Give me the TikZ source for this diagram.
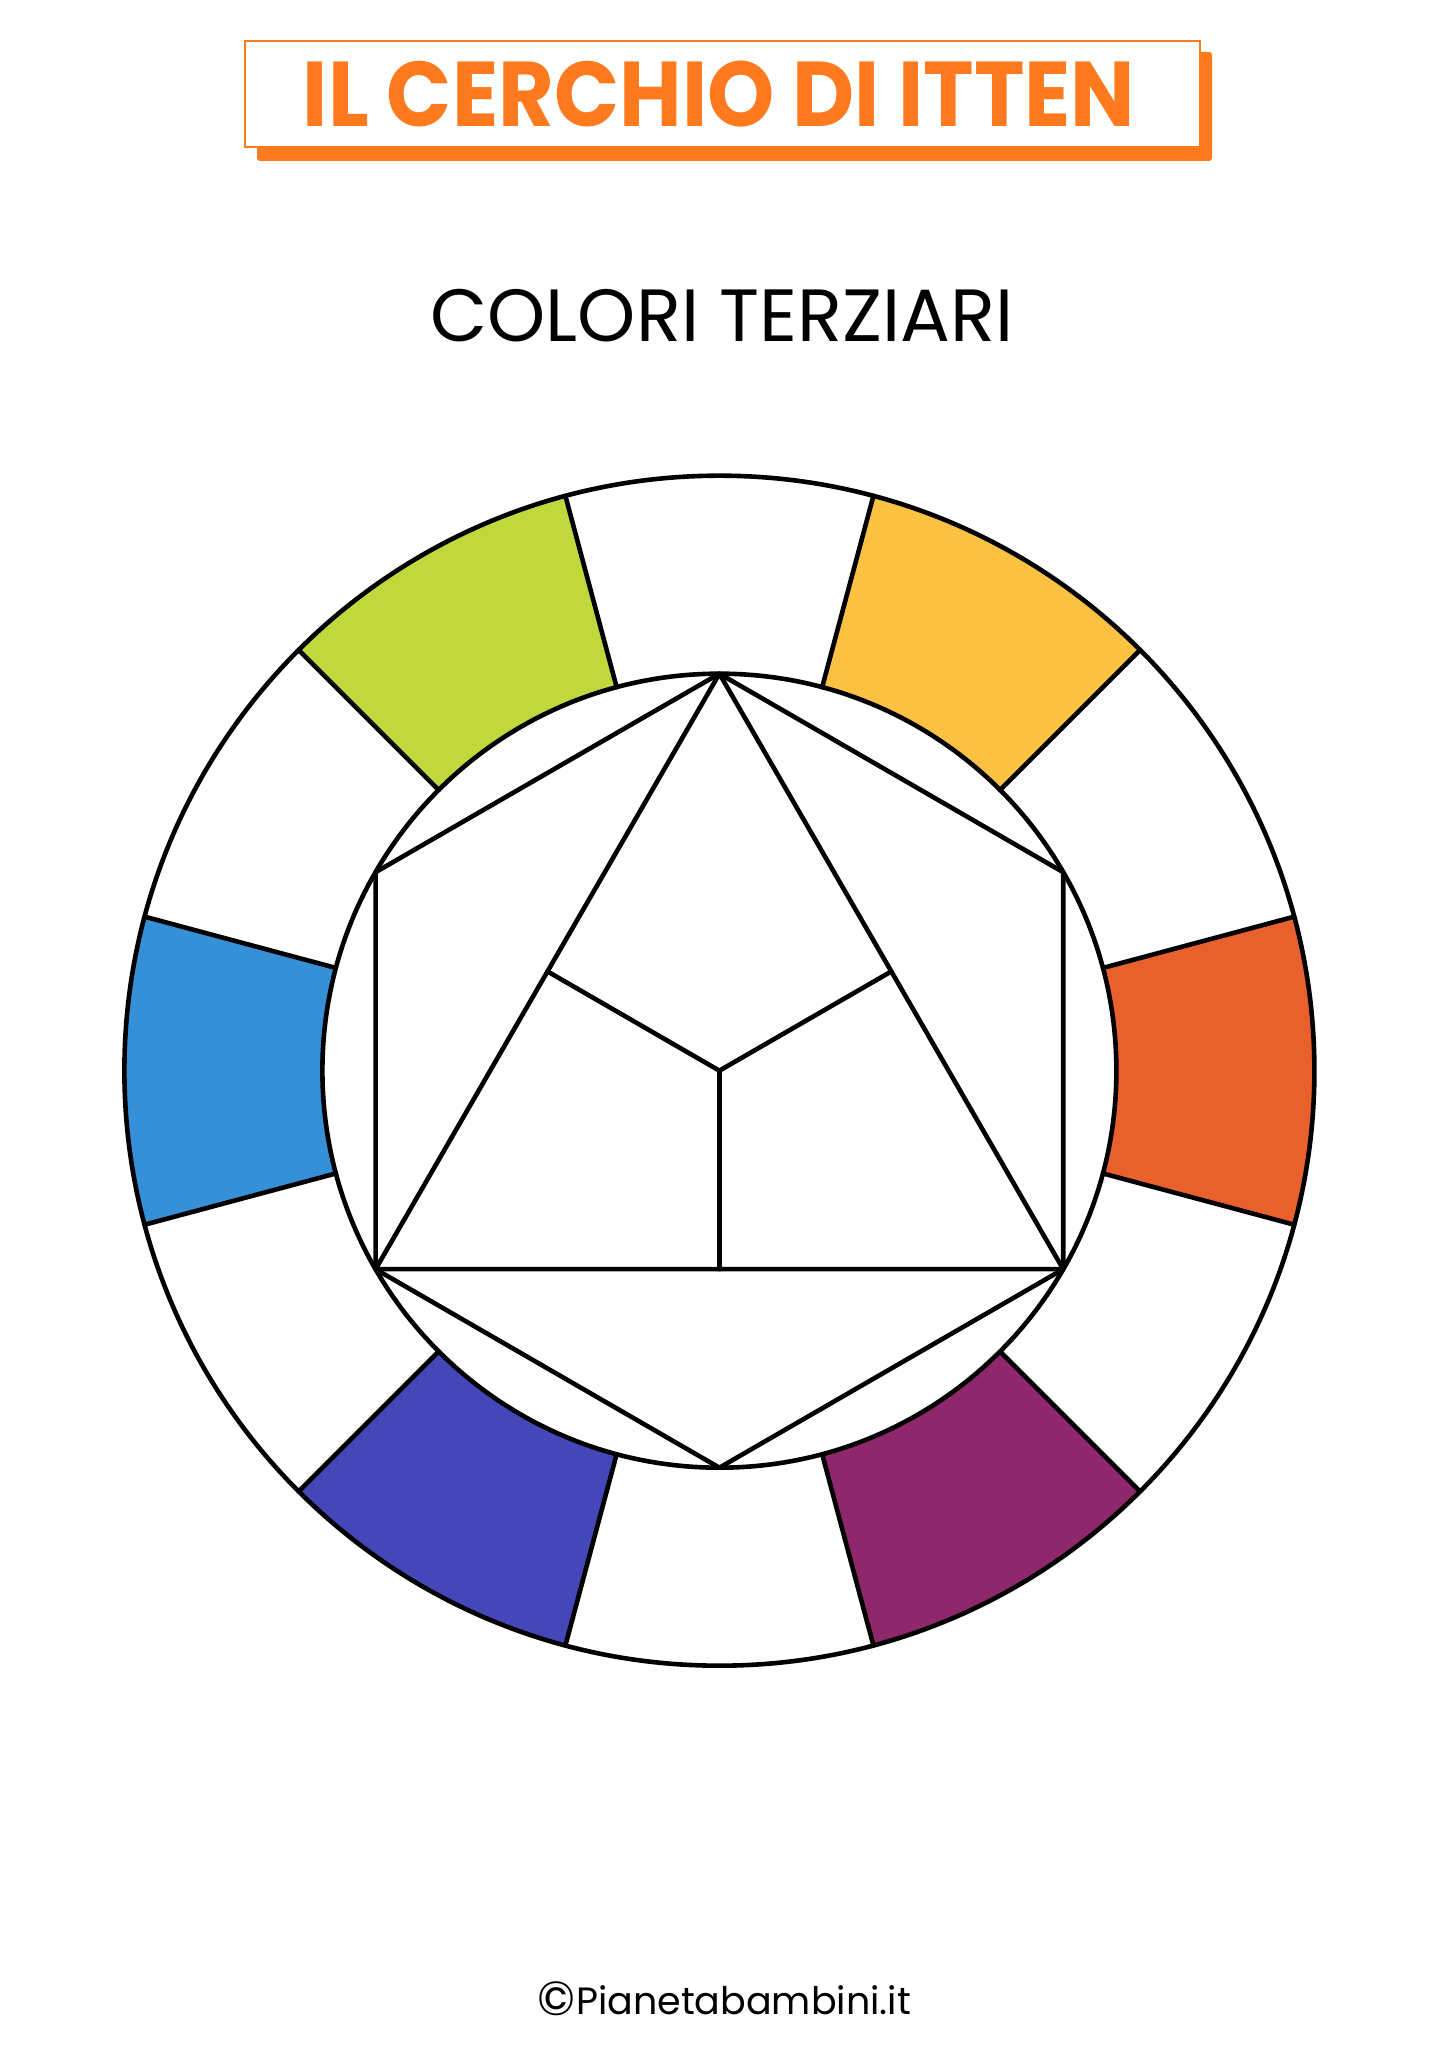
\documentclass[tikz,border=0pt]{standalone}
\usepackage{fontspec}
\usepackage{graphicx}
\newfontfamily\pop{Poppins}
\definecolor{ttlorange}{HTML}{FF7A1E}
\definecolor{cyellow}{HTML}{FBC143}
\definecolor{corange}{HTML}{E8602C}
\definecolor{cpurple}{HTML}{8F276C}
\definecolor{cviolet}{HTML}{4547B9}
\definecolor{cblue}{HTML}{3590D8}
\definecolor{cgreen}{HTML}{C0D83C}
\tikzset{wline/.style={line width=4.6pt, line join=round, line cap=round, draw=black}}
\begin{document}
\begin{tikzpicture}[x=1pt,y=1pt]
\useasboundingbox[fill=white] (0,0) rectangle (1448,2048);
% title box
\fill[ttlorange, rounded corners=3pt] (257,1887) rectangle (1212,1996);
\draw[ttlorange, fill=white, line width=2.5pt] (245,1901) rectangle (1200,2007);
\node[text=ttlorange, font={\pop\bfseries\fontsize{92}{100}\selectfont}] (title) at (719,1954) {\scalebox{0.93}[1]{IL CERCHIO DI ITTEN}};
\node[text=black, font={\pop\fontsize{74}{80}\selectfont}] (sub) at (722,1732) {COLORI TERZIARI};
\node[text=black, font={\pop\fontsize{38}{44}\selectfont}] (foot) at (724,49) {\raisebox{-1pt}{\fontsize{48}{52}\selectfont ©}\hspace{1pt}Pianetabambini.it};
\begin{scope}[shift={(719.4,977.3)}]
\def\R{595}\def\r{397}
\foreach \a/\c in {90/white,60/cyellow,30/white,0/corange,-30/white,-60/cpurple,-90/white,-120/cviolet,-150/white,180/cblue,150/white,120/cgreen}{
  \fill[\c] (\a-15:\R) arc[start angle=\a-15, end angle=\a+15, radius=\R] -- (\a+15:\r) arc[start angle=\a+15, end angle=\a-15, radius=\r] -- cycle;
}
\foreach \k in {0,...,11}{
  \draw[wline] (15+30*\k:\r) -- (15+30*\k:\R);
}
\draw[wline] (0,0) circle[radius=\R];
\draw[wline] (0,0) circle[radius=\r];
\draw[wline] (90:\r) -- (150:\r) -- (210:\r) -- (270:\r) -- (330:\r) -- (30:\r) -- cycle;
\draw[wline] (90:\r) -- (210:\r) -- (330:\r) -- cycle;
\draw[wline] (0,0) -- (150:\r/2);
\draw[wline] (0,0) -- (30:\r/2);
\draw[wline] (0,0) -- (270:\r/2);
\end{scope}
\end{tikzpicture}
\end{document}
